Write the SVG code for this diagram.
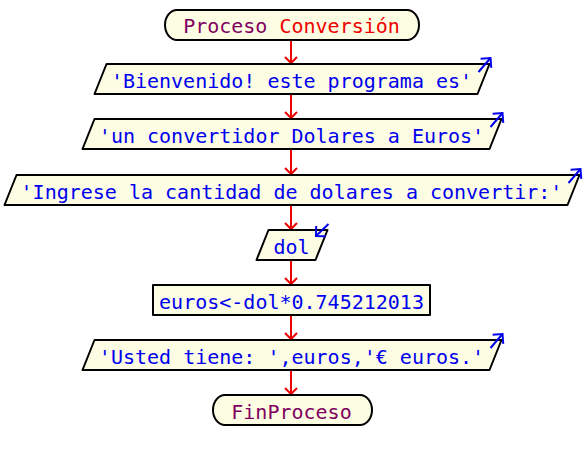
<svg xmlns="http://www.w3.org/2000/svg" width="584" height="460" viewBox="0 0 584 460">
<style>
.shape{fill:#fdfde3;stroke:#000;stroke-width:2;stroke-linejoin:round}
.t{font-family:"DejaVu Sans Mono","Liberation Mono",monospace;font-size:20px;text-anchor:middle}
.blue{fill:#0000ee}
.purple{fill:#800060}
.red{fill:#ee0000}
.flow{stroke:#ee0000;stroke-width:2;fill:none}
.io{stroke:#0000ee;stroke-width:2;fill:none}
</style>
<defs>
<marker id="ra" viewBox="-8 -7 10 14" refX="0" refY="0" markerWidth="10" markerHeight="14" markerUnits="userSpaceOnUse" orient="auto">
<path d="M-6,-6 L0,0 L-6,6" fill="none" stroke="#ee0000" stroke-width="2"/>
</marker>
<marker id="ba" viewBox="-9 -8 11 16" refX="0" refY="0" markerWidth="11" markerHeight="16" markerUnits="userSpaceOnUse" orient="auto">
<path d="M-7,-7 L0,0 L-7,7" fill="none" stroke="#0000ee" stroke-width="2"/>
</marker>
</defs>
<g id="connectors">
<line class="flow" x1="291" y1="40" x2="291" y2="63" marker-end="url(#ra)"/>
<line class="flow" x1="291" y1="94" x2="291" y2="118" marker-end="url(#ra)"/>
<line class="flow" x1="291" y1="149" x2="291" y2="174" marker-end="url(#ra)"/>
<line class="flow" x1="291" y1="205" x2="291" y2="229" marker-end="url(#ra)"/>
<line class="flow" x1="291" y1="260" x2="291" y2="284" marker-end="url(#ra)"/>
<line class="flow" x1="291" y1="315" x2="291" y2="339" marker-end="url(#ra)"/>
<line class="flow" x1="291" y1="370" x2="291" y2="394" marker-end="url(#ra)"/>
</g>
<g id="start">
<path class="shape" d="M177,10 H407 A12,15 0 0 1 407,40 H177 A12,15 0 0 1 177,10 Z"/>
<text class="t" x="291.5" y="33"><tspan class="purple">Proceso </tspan><tspan class="red">Conversión</tspan></text>
</g>
<g id="out1">
<path class="shape" d="M106.5,64 H489.5 L477.5,94 H94.5 Z"/>
<text class="t blue" x="291.5" y="87.5">'Bienvenido! este programa es'</text>
<line class="io" x1="478.5" y1="72" x2="490.5" y2="58" marker-end="url(#ba)"/>
</g>
<g id="out2">
<path class="shape" d="M94.5,119 H501.5 L489.5,149 H82.5 Z"/>
<text class="t blue" x="291.5" y="142.5">'un convertidor Dolares a Euros'</text>
<line class="io" x1="490.5" y1="127" x2="502.5" y2="113" marker-end="url(#ba)"/>
</g>
<g id="out3">
<path class="shape" d="M16.5,175 H579.5 L567.5,205 H4.5 Z"/>
<text class="t blue" x="291.5" y="198.5">'Ingrese la cantidad de dolares a convertir:'</text>
<line class="io" x1="568.5" y1="183" x2="580.5" y2="169" marker-end="url(#ba)"/>
</g>
<g id="in1">
<path class="shape" d="M268.5,230 H327.5 L315.5,260 H256.5 Z"/>
<text class="t blue" x="291.5" y="253.5">dol</text>
<line class="io" x1="328.5" y1="224" x2="316" y2="236" marker-end="url(#ba)"/>
</g>
<g id="assign">
<rect class="shape" x="153" y="285" width="277" height="30"/>
<text class="t blue" x="291.5" y="308.5">euros&lt;-dol*0.745212013</text>
</g>
<g id="out4">
<path class="shape" d="M94.5,340 H501.5 L489.5,370 H82.5 Z"/>
<text class="t blue" x="291.5" y="363.5">'Usted tiene: ',euros,'€ euros.'</text>
<line class="io" x1="490.5" y1="348" x2="502.5" y2="334" marker-end="url(#ba)"/>
</g>
<g id="end">
<path class="shape" d="M225,395 H360 A12,15 0 0 1 360,425 H225 A12,15 0 0 1 225,395 Z"/>
<text class="t purple" x="291.5" y="418.5">FinProceso</text>
</g>
</svg>
